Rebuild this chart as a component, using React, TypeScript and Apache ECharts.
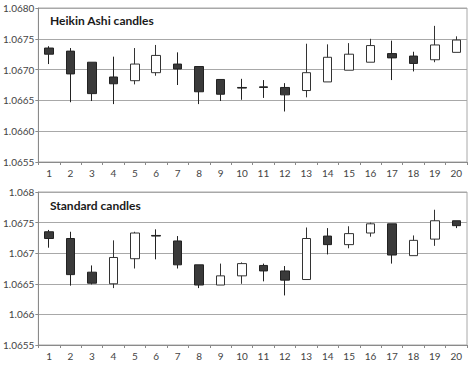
import React, { useEffect, useRef } from "react";
import * as echarts from "echarts";

const categories = ["1","2","3","4","5","6","7","8","9","10","11","12","13","14","15","16","17","18","19","20"];

// Heikin Ashi candles: [open, close, low, high]
const haOpen  = [1.06735,1.06730,1.06712,1.06688,1.06682,1.06695,1.06709,1.06705,1.06684,1.06671,1.06672,1.06671,1.06666,1.06680,1.06699,1.06712,1.06726,1.06722,1.06716,1.06728];
const haClose = [1.06725,1.06693,1.06661,1.06677,1.06709,1.06723,1.06701,1.06664,1.06660,1.06670,1.06671,1.06659,1.06695,1.06720,1.06725,1.06739,1.06719,1.06710,1.06740,1.06748];
const haLow   = [1.06709,1.06647,1.06649,1.06644,1.06676,1.06690,1.06675,1.06644,1.06649,1.06651,1.06654,1.06632,1.06655,1.06680,1.06699,1.06712,1.06683,1.06697,1.06712,1.06728];
const haHigh  = [1.06738,1.06735,1.06712,1.06721,1.06735,1.06740,1.06728,1.06705,1.06684,1.06685,1.06683,1.06678,1.06742,1.06741,1.06743,1.06750,1.06747,1.06729,1.06771,1.06754];

// Standard candles: [open, close, low, high]
const stOpen  = [1.06735,1.06724,1.06669,1.06650,1.06691,1.06729,1.06720,1.06681,1.06648,1.06663,1.06680,1.06671,1.06657,1.06728,1.06714,1.06733,1.06748,1.06696,1.06723,1.06753];
const stClose = [1.06724,1.06665,1.06651,1.06693,1.06733,1.06728,1.06681,1.06648,1.06663,1.06683,1.06671,1.06656,1.06724,1.06714,1.06732,1.06748,1.06697,1.06721,1.06753,1.06745];
const stLow   = [1.06709,1.06647,1.06649,1.06643,1.06675,1.06690,1.06675,1.06643,1.06648,1.06650,1.06654,1.06631,1.06657,1.06698,1.06708,1.06727,1.06683,1.06696,1.06712,1.06741];
const stHigh  = [1.06738,1.06735,1.06680,1.06721,1.06735,1.06739,1.06728,1.06681,1.06683,1.06685,1.06683,1.06679,1.06742,1.06741,1.06744,1.06750,1.06748,1.06729,1.06771,1.06753];

const yMin = 1.0655;
const yMax = 1.068;
const yStep = 0.0005;

const titles = ["Heikin Ashi candles", "Standard candles"];

export default function App() {
  const ref = useRef<HTMLDivElement>(null);
  useEffect(() => {
    if (!ref.current) return;
    const chart = echarts.init(ref.current, null, { renderer: "svg" });
    const font = "Lato, 'Open Sans', sans-serif";
    const mk = (o: number[], c: number[], l: number[], h: number[]) =>
      o.map((v, i) => [v, c[i], l[i], h[i]]);
    const xAxisBase = (gi: number) => ({
      type: "category" as const,
      gridIndex: gi,
      data: categories,
      boundaryGap: true,
      axisLine: { lineStyle: { color: "#8a8a8a", width: 1 } },
      axisTick: { show: true, alignWithLabel: false, length: 3, lineStyle: { color: "#8a8a8a" } },
      axisLabel: { color: "#444", fontSize: 10, fontFamily: font, margin: 6 },
    });
    const yAxisBase = (gi: number, fmt: (v: number) => string) => ({
      type: "value" as const,
      gridIndex: gi,
      min: yMin,
      max: yMax,
      interval: yStep,
      axisLine: { show: true, lineStyle: { color: "#8a8a8a", width: 1 } },
      axisTick: { show: true, length: 3, lineStyle: { color: "#8a8a8a" } },
      axisLabel: { color: "#444", fontSize: 10, fontFamily: font, margin: 4, formatter: fmt },
      splitLine: { show: true, lineStyle: { color: "#a8a8a8", width: 1 } },
    });
    const candleStyle = {
      color: "#ffffff",
      color0: "#3a3a3a",
      borderColor: "#333333",
      borderColor0: "#222222",
      borderWidth: 1,
    };
    chart.setOption({
      animation: false,
      backgroundColor: "#ffffff",
      grid: [
        { left: 37, right: 7, top: 8, height: 154, show: true, borderColor: "#a8a8a8", borderWidth: 1 },
        { left: 37, right: 7, top: 192, height: 153, show: true, borderColor: "#a8a8a8", borderWidth: 1 },
      ],
      xAxis: [xAxisBase(0), xAxisBase(1)],
      yAxis: [
        yAxisBase(0, (v: number) => v.toFixed(4)),
        yAxisBase(1, (v: number) => String(parseFloat(v.toFixed(4)))),
      ],
      series: [
        {
          type: "candlestick",
          xAxisIndex: 0,
          yAxisIndex: 0,
          barWidth: 9,
          itemStyle: candleStyle,
          data: mk(haOpen, haClose, haLow, haHigh),
        },
        {
          type: "candlestick",
          xAxisIndex: 1,
          yAxisIndex: 1,
          barWidth: 9,
          itemStyle: candleStyle,
          data: mk(stOpen, stClose, stLow, stHigh),
        },
      ],
      graphic: [
        {
          type: "text",
          left: 50,
          top: 14,
          style: { text: titles[0], fontSize: 12, fontFamily: font, fontWeight: "bold", fill: "#1a1a1a" },
        },
        {
          type: "text",
          left: 50,
          top: 199,
          style: { text: titles[1], fontSize: 12, fontFamily: font, fontWeight: "bold", fill: "#1a1a1a" },
        },
      ],
    });
    return () => chart.dispose();
  }, []);
  return <div ref={ref} style={{ width: 474, height: 366, position: "absolute", left: 0, top: 0 }} />;
}
